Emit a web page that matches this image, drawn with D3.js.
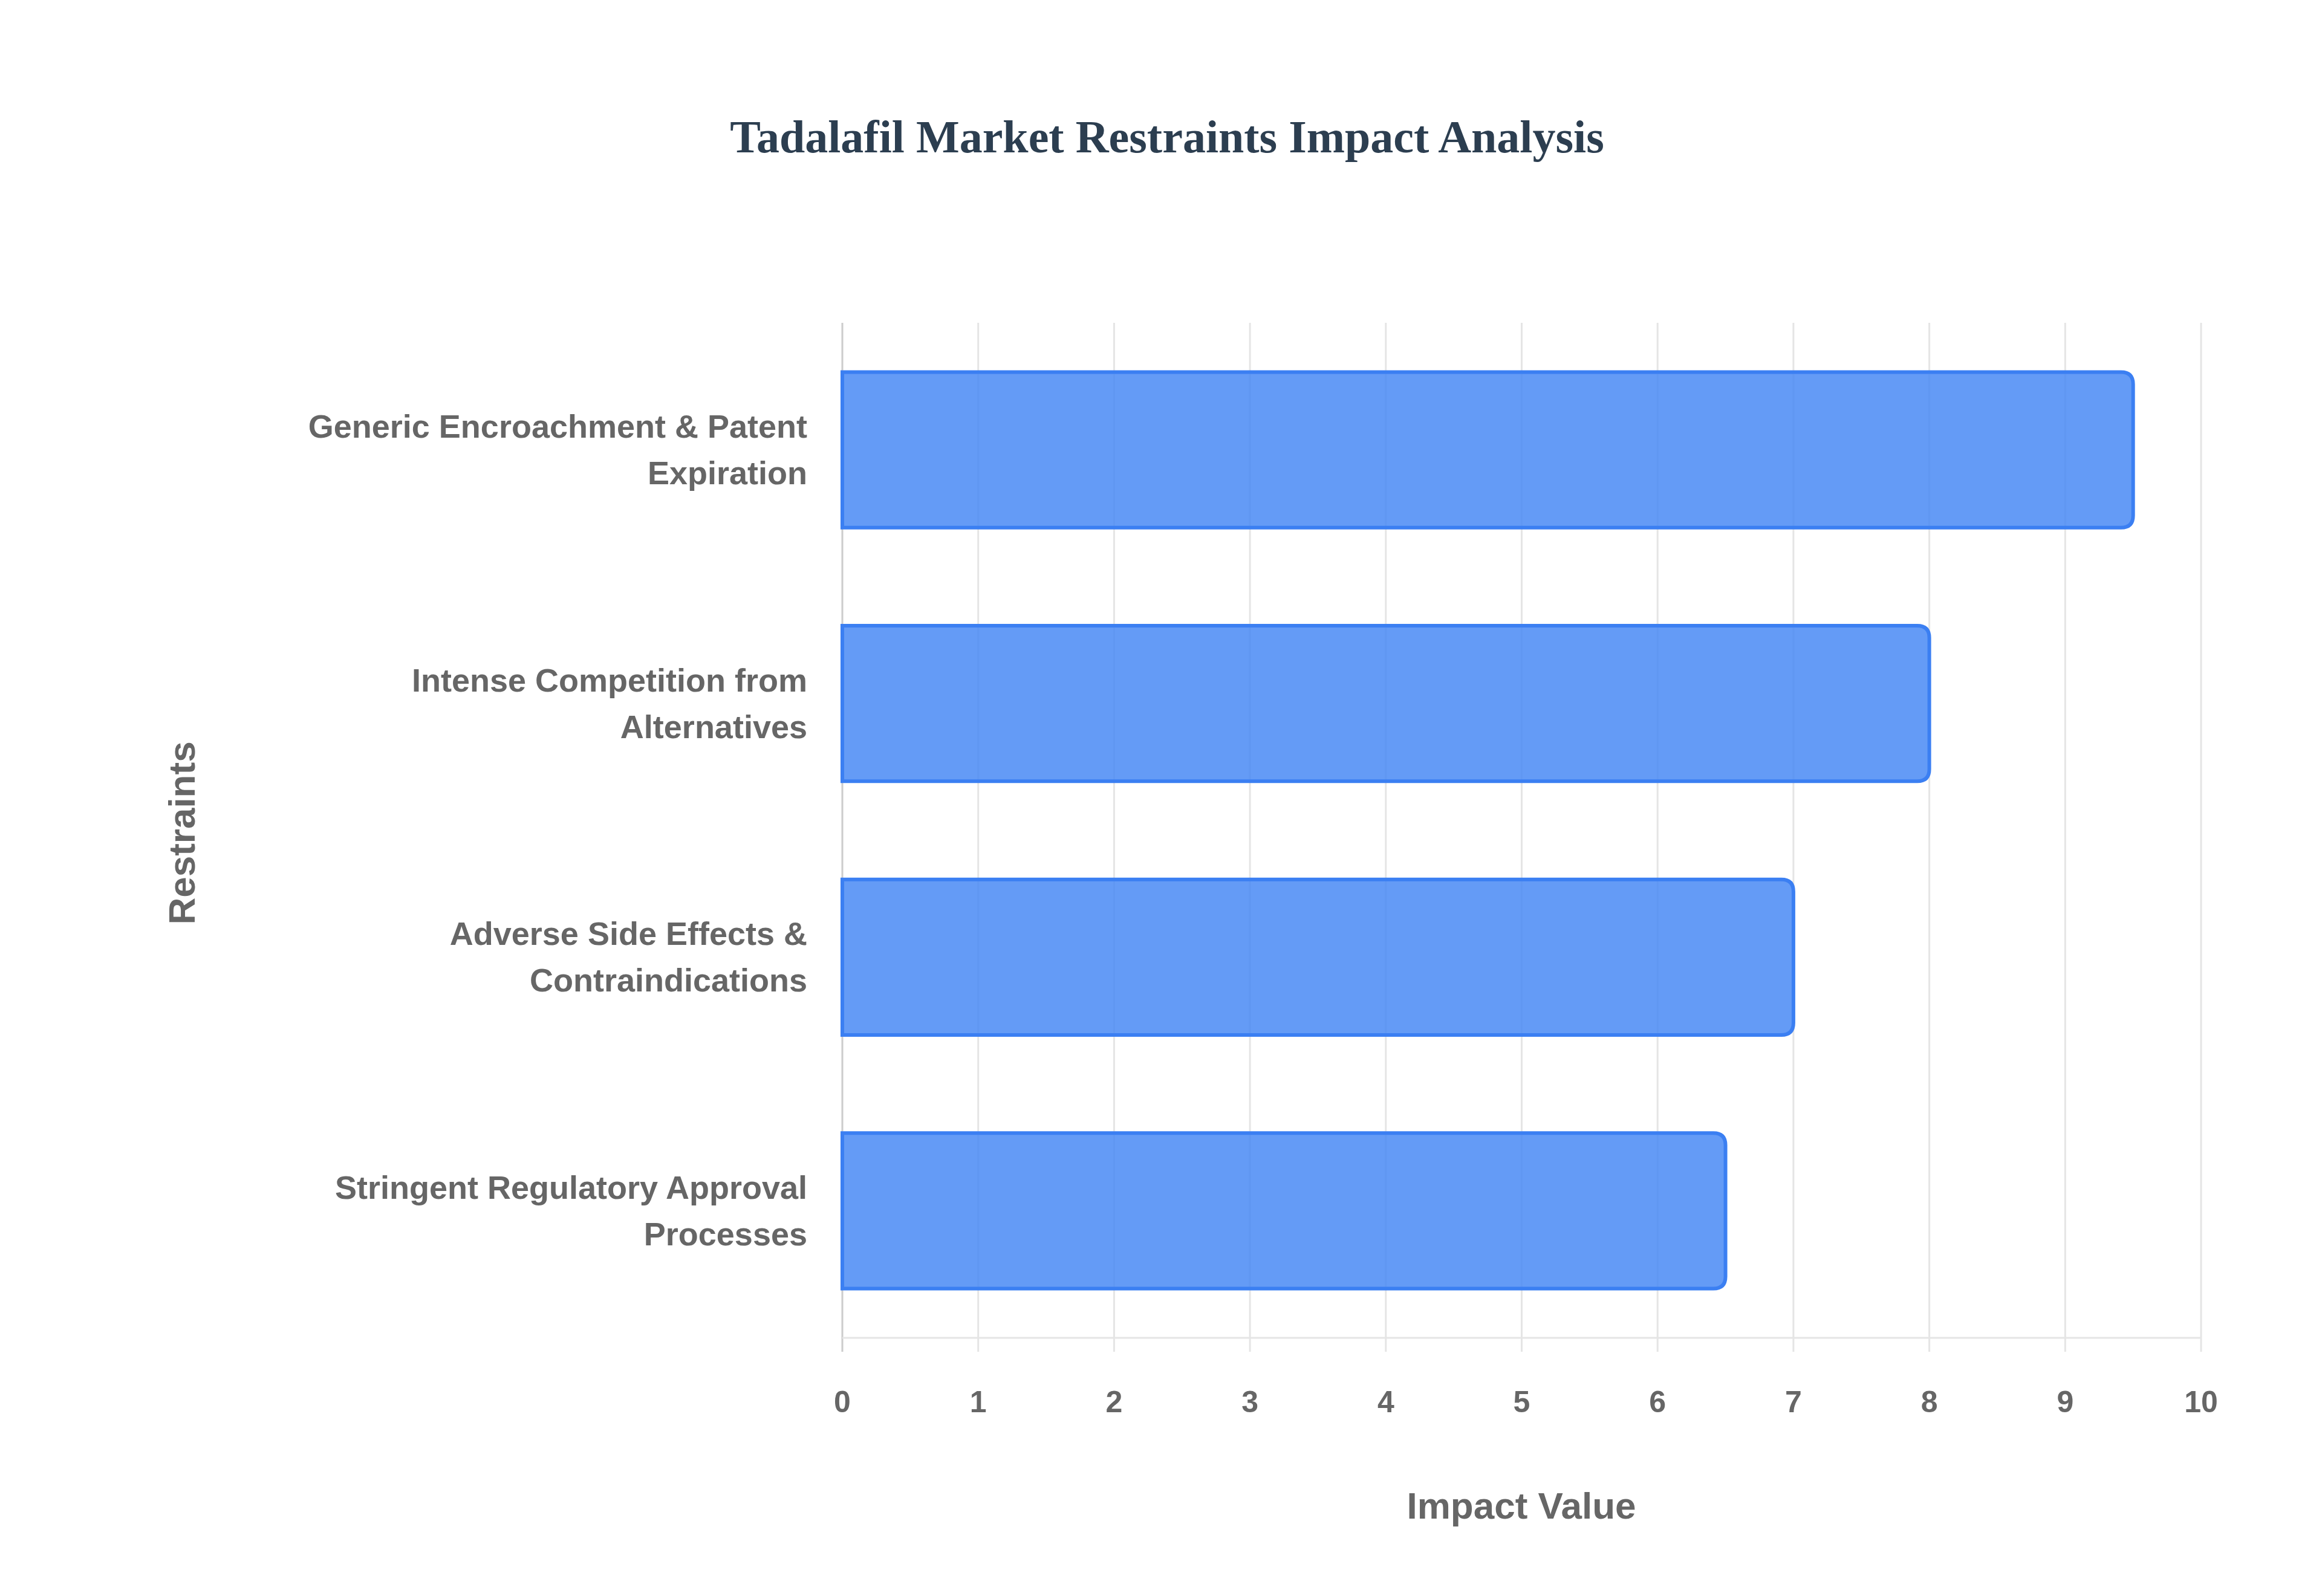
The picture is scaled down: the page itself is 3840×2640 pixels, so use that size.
<!DOCTYPE html>
<html><head><meta charset="utf-8">
<script src="https://cdn.jsdelivr.net/npm/d3@7"></script>
<style>body{margin:0;background:#fff}</style></head>
<body><svg id="c" width="3840" height="2640"></svg>
<script>
const categories = [["Generic Encroachment & Patent","Expiration"],["Intense Competition from","Alternatives"],["Adverse Side Effects &","Contraindications"],["Stringent Regulatory Approval","Processes"]];
const values = [9.5, 8, 7, 6.5];
const ticks = [0,1,2,3,4,5,6,7,8,9,10];

const svg = d3.select("#c");
const x = d3.scaleLinear().domain([0,10]).range([1393,3640]);
const y = d3.scaleBand().domain(d3.range(4)).range([534,2213]).paddingInner(0.387).paddingOuter(0.194);
const gray = "#666";

svg.append("text").attr("x",1930).attr("y",252).attr("text-anchor","middle")
  .attr("font-family","Liberation Serif").attr("font-weight","bold").attr("font-size",76).attr("fill","#2c3e50")
  .text("Tadalafil Market Restraints Impact Analysis");

// grid
svg.append("g").selectAll("line").data(ticks).join("line")
  .attr("x1",d=>x(d)).attr("x2",d=>x(d)).attr("y1",534).attr("y2",2236)
  .attr("stroke",d=>d===0?"#ccc":"#e5e5e5").attr("stroke-width",3);
svg.append("line").attr("x1",1393).attr("x2",3640).attr("y1",2213).attr("y2",2213).attr("stroke","#e5e5e5").attr("stroke-width",3);

// bars
const r = 20;
svg.append("g").selectAll("path").data(values).join("path")
  .attr("d",(d,i)=>{const x0=x(0),x1=x(d),y0=y(i),h=y.bandwidth();
    return `M${x0},${y0}H${x1-r}Q${x1},${y0} ${x1},${y0+r}V${y0+h-r}Q${x1},${y0+h} ${x1-r},${y0+h}H${x0}Z`;})
  .attr("fill","rgba(66,133,244,0.82)").attr("stroke","#3b7ff2").attr("stroke-width",6);

// x tick labels
svg.append("g").selectAll("text").data(ticks).join("text")
  .attr("x",d=>x(d)).attr("y",2336).attr("text-anchor","middle")
  .attr("font-family","Liberation Sans").attr("font-weight","bold").attr("font-size",50).attr("fill",gray)
  .text(d=>d);

// y labels
const yl = svg.append("g").selectAll("text").data(categories).join("text")
  .attr("text-anchor","end").attr("font-family","Liberation Sans").attr("font-weight","bold")
  .attr("font-size",54).attr("fill",gray);
yl.each(function(lines,i){
  const c = y(i)+y.bandwidth()/2;
  d3.select(this).selectAll("tspan").data(lines).join("tspan")
    .attr("x",1335).attr("y",(d,j)=>c-38+j*77+18).text(d=>d);
});

svg.append("text").attr("x",2516).attr("y",2512).attr("text-anchor","middle")
  .attr("font-family","Liberation Sans").attr("font-weight","bold").attr("font-size",62).attr("fill",gray)
  .text("Impact Value");
svg.append("text").attr("transform","translate(322,1378) rotate(-90)").attr("text-anchor","middle")
  .attr("font-family","Liberation Sans").attr("font-weight","bold").attr("font-size",62).attr("fill",gray)
  .text("Restraints");
</script></body></html>
